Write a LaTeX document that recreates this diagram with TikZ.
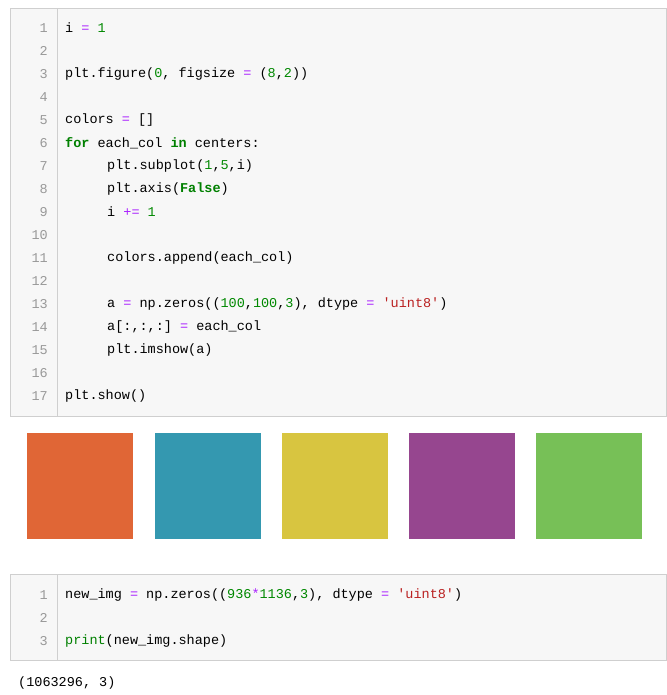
\documentclass[tikz,border=0pt]{standalone}
\usepackage{fontspec}
\setmonofont{Liberation Mono}
\definecolor{cellbg}{HTML}{F7F7F7}
\definecolor{cellbd}{HTML}{CFCFCF}
\definecolor{opc}{HTML}{AA22FF}
\definecolor{nmc}{HTML}{008800}
\definecolor{kwc}{HTML}{008000}
\definecolor{stc}{HTML}{BA2121}
\definecolor{lnc}{HTML}{999999}
\definecolor{c1}{HTML}{E06636}
\definecolor{c2}{HTML}{3498B0}
\definecolor{c3}{HTML}{D8C540}
\definecolor{c4}{HTML}{96468F}
\definecolor{c5}{HTML}{77C057}
\newcommand{\op}[1]{\textcolor{opc}{#1}}
\newcommand{\nm}[1]{\textcolor{nmc}{#1}}
\newcommand{\kw}[1]{\textcolor{kwc}{\bfseries #1}}
\newcommand{\bi}[1]{\textcolor{kwc}{#1}}
\newcommand{\st}[1]{\textcolor{stc}{#1}}
\begin{document}
\begin{tikzpicture}[x=1pt,y=-1pt,
  code/.style={anchor=west,inner sep=0pt,font=\ttfamily\fontsize{13.5}{16}\selectfont},
  lnum/.style={anchor=east,inner sep=0pt,text=lnc,font=\ttfamily\fontsize{13.5}{16}\selectfont},
  cell/.style={fill=cellbg,draw=cellbd,line width=0.8pt}]
\useasboundingbox (0,0) rectangle (666,695);
\draw[cell] (10.5,8.5) rectangle (666,416);
\draw[cellbd] (57,8.5) -- (57,416);
\foreach \n in {1,...,17} \node[lnum] (ln\n) at (48,{28+23*(\n-1)}) {\n};
\node[code] (l1) at (65,28) {i \op{=} \nm{1}};
\node[code] (l3) at (65,74) {plt.figure(\nm{0}, figsize \op{=} (\nm{8},\nm{2}))};
\node[code] (l5) at (65,120) {colors \op{=} []};
\node[code] (l6) at (65,143) {\kw{for} each\_col \kw{in} centers:};
\node[code] (l7) at (107,166) {plt.subplot(\nm{1},\nm{5},i)};
\node[code] (l8) at (107,189) {plt.axis(\kw{False})};
\node[code] (l9) at (107,212) {i \op{+=} \nm{1}};
\node[code] (l11) at (107,258) {colors.append(each\_col)};
\node[code] (l13) at (107,304) {a \op{=} np.zeros((\nm{100},\nm{100},\nm{3}), dtype \op{=} \st{'uint8'})};
\node[code] (l14) at (107,327) {a[:,:,:] \op{=} each\_col};
\node[code] (l15) at (107,350) {plt.imshow(a)};
\node[code] (l17) at (65,396) {plt.show()};
\fill[c1] (27,433) rectangle (133,539);
\fill[c2] (155,433) rectangle (261,539);
\fill[c3] (282,433) rectangle (388,539);
\fill[c4] (409,433) rectangle (515,539);
\fill[c5] (536,433) rectangle (642,539);
\draw[cell] (10.5,574.5) rectangle (666,660);
\draw[cellbd] (57,574.5) -- (57,660);
\foreach \n in {1,2,3} \node[lnum] (m\n) at (48,{595+23*(\n-1)}) {\n};
\node[code] (k1) at (65,595) {new\_img \op{=} np.zeros((\nm{936}\op{*}\nm{1136},\nm{3}), dtype \op{=} \st{'uint8'})};
\node[code] (k3) at (65,641) {\bi{print}(new\_img.shape)};
\node[code] (out) at (18,683) {(1063296, 3)};
\end{tikzpicture}
\end{document}
